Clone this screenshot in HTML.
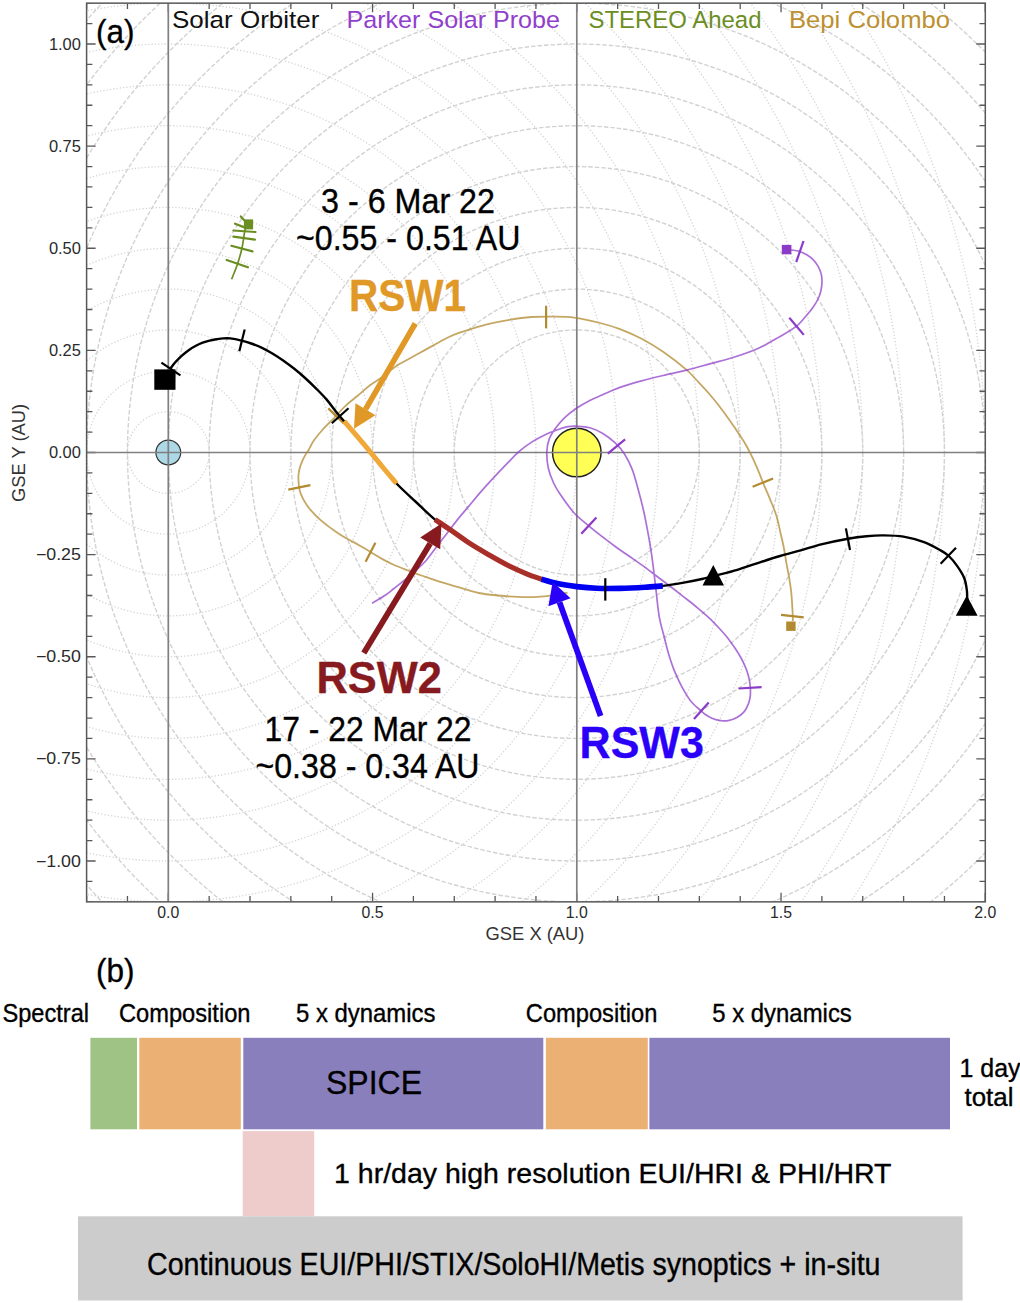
<!DOCTYPE html>
<html><head><meta charset="utf-8"><style>
html,body{margin:0;padding:0;background:#fff;}
body{width:1020px;height:1303px;overflow:hidden;}
svg{display:block;}
.dot{stroke-dasharray:1.25 2.05;stroke:#d4d4d4;stroke-width:1.3;}
.dash{stroke-dasharray:4.5 2;stroke:#d2d2d2;stroke-width:1.4;}
</style></head><body>

<svg width="1020" height="1303" viewBox="0 0 1020 1303">
<defs><clipPath id="pc"><rect x="86.60" y="3.15" width="898.70" height="898.70"/></clipPath></defs>
<g clip-path="url(#pc)">
<g fill="none" stroke="#cfcfcf" stroke-width="1">
<circle cx="168.30" cy="452.50" r="40.85" class="dot"/><circle cx="168.30" cy="452.50" r="81.70" class="dot"/><circle cx="168.30" cy="452.50" r="122.55" class="dot"/><circle cx="168.30" cy="452.50" r="163.40" class="dot"/><circle cx="168.30" cy="452.50" r="204.25" class="dot"/><circle cx="168.30" cy="452.50" r="245.10" class="dot"/><circle cx="168.30" cy="452.50" r="285.95" class="dot"/><circle cx="168.30" cy="452.50" r="326.80" class="dot"/><circle cx="168.30" cy="452.50" r="367.65" class="dot"/><circle cx="168.30" cy="452.50" r="408.50" class="dot"/><circle cx="168.30" cy="452.50" r="449.35" class="dot"/><circle cx="168.30" cy="452.50" r="490.20" class="dot"/><circle cx="168.30" cy="452.50" r="531.05" class="dot"/><circle cx="168.30" cy="452.50" r="571.90" class="dot"/><circle cx="168.30" cy="452.50" r="612.75" class="dot"/><circle cx="168.30" cy="452.50" r="653.60" class="dot"/><circle cx="168.30" cy="452.50" r="694.45" class="dot"/><circle cx="168.30" cy="452.50" r="735.30" class="dot"/><circle cx="168.30" cy="452.50" r="776.15" class="dot"/><circle cx="168.30" cy="452.50" r="817.00" class="dot"/><circle cx="576.80" cy="452.50" r="122.55" class="dash"/><circle cx="576.80" cy="452.50" r="163.40" class="dash"/><circle cx="576.80" cy="452.50" r="204.25" class="dash"/><circle cx="576.80" cy="452.50" r="245.10" class="dash"/><circle cx="576.80" cy="452.50" r="285.95" class="dash"/><circle cx="576.80" cy="452.50" r="326.80" class="dash"/><circle cx="576.80" cy="452.50" r="367.65" class="dash"/><circle cx="576.80" cy="452.50" r="408.50" class="dash"/><circle cx="576.80" cy="452.50" r="449.35" class="dash"/><circle cx="576.80" cy="452.50" r="490.20" class="dash"/><circle cx="576.80" cy="452.50" r="531.05" class="dash"/><circle cx="576.80" cy="452.50" r="571.90" class="dash"/><circle cx="576.80" cy="452.50" r="612.75" class="dash"/><circle cx="576.80" cy="452.50" r="653.60" class="dash"/><circle cx="576.80" cy="452.50" r="694.45" class="dash"/>
</g>
<g stroke="#585858" stroke-width="1.3"><line x1="86.60" y1="901.85" x2="86.60" y2="896.05"/><line x1="86.60" y1="3.15" x2="86.60" y2="8.95"/><line x1="127.45" y1="901.85" x2="127.45" y2="896.05"/><line x1="127.45" y1="3.15" x2="127.45" y2="8.95"/><line x1="168.30" y1="901.85" x2="168.30" y2="892.85"/><line x1="168.30" y1="3.15" x2="168.30" y2="12.15"/><line x1="209.15" y1="901.85" x2="209.15" y2="896.05"/><line x1="209.15" y1="3.15" x2="209.15" y2="8.95"/><line x1="250.00" y1="901.85" x2="250.00" y2="896.05"/><line x1="250.00" y1="3.15" x2="250.00" y2="8.95"/><line x1="290.85" y1="901.85" x2="290.85" y2="896.05"/><line x1="290.85" y1="3.15" x2="290.85" y2="8.95"/><line x1="331.70" y1="901.85" x2="331.70" y2="896.05"/><line x1="331.70" y1="3.15" x2="331.70" y2="8.95"/><line x1="372.55" y1="901.85" x2="372.55" y2="892.85"/><line x1="372.55" y1="3.15" x2="372.55" y2="12.15"/><line x1="413.40" y1="901.85" x2="413.40" y2="896.05"/><line x1="413.40" y1="3.15" x2="413.40" y2="8.95"/><line x1="454.25" y1="901.85" x2="454.25" y2="896.05"/><line x1="454.25" y1="3.15" x2="454.25" y2="8.95"/><line x1="495.10" y1="901.85" x2="495.10" y2="896.05"/><line x1="495.10" y1="3.15" x2="495.10" y2="8.95"/><line x1="535.95" y1="901.85" x2="535.95" y2="896.05"/><line x1="535.95" y1="3.15" x2="535.95" y2="8.95"/><line x1="576.80" y1="901.85" x2="576.80" y2="892.85"/><line x1="576.80" y1="3.15" x2="576.80" y2="12.15"/><line x1="617.65" y1="901.85" x2="617.65" y2="896.05"/><line x1="617.65" y1="3.15" x2="617.65" y2="8.95"/><line x1="658.50" y1="901.85" x2="658.50" y2="896.05"/><line x1="658.50" y1="3.15" x2="658.50" y2="8.95"/><line x1="699.35" y1="901.85" x2="699.35" y2="896.05"/><line x1="699.35" y1="3.15" x2="699.35" y2="8.95"/><line x1="740.20" y1="901.85" x2="740.20" y2="896.05"/><line x1="740.20" y1="3.15" x2="740.20" y2="8.95"/><line x1="781.05" y1="901.85" x2="781.05" y2="892.85"/><line x1="781.05" y1="3.15" x2="781.05" y2="12.15"/><line x1="821.90" y1="901.85" x2="821.90" y2="896.05"/><line x1="821.90" y1="3.15" x2="821.90" y2="8.95"/><line x1="862.75" y1="901.85" x2="862.75" y2="896.05"/><line x1="862.75" y1="3.15" x2="862.75" y2="8.95"/><line x1="903.60" y1="901.85" x2="903.60" y2="896.05"/><line x1="903.60" y1="3.15" x2="903.60" y2="8.95"/><line x1="944.45" y1="901.85" x2="944.45" y2="896.05"/><line x1="944.45" y1="3.15" x2="944.45" y2="8.95"/><line x1="985.30" y1="901.85" x2="985.30" y2="892.85"/><line x1="985.30" y1="3.15" x2="985.30" y2="12.15"/><line x1="86.60" y1="901.85" x2="92.40" y2="901.85"/><line x1="985.30" y1="901.85" x2="979.50" y2="901.85"/><line x1="86.60" y1="881.42" x2="92.40" y2="881.42"/><line x1="985.30" y1="881.42" x2="979.50" y2="881.42"/><line x1="86.60" y1="861.00" x2="95.60" y2="861.00"/><line x1="985.30" y1="861.00" x2="976.30" y2="861.00"/><line x1="86.60" y1="840.58" x2="92.40" y2="840.58"/><line x1="985.30" y1="840.58" x2="979.50" y2="840.58"/><line x1="86.60" y1="820.15" x2="92.40" y2="820.15"/><line x1="985.30" y1="820.15" x2="979.50" y2="820.15"/><line x1="86.60" y1="799.73" x2="92.40" y2="799.73"/><line x1="985.30" y1="799.73" x2="979.50" y2="799.73"/><line x1="86.60" y1="779.30" x2="92.40" y2="779.30"/><line x1="985.30" y1="779.30" x2="979.50" y2="779.30"/><line x1="86.60" y1="758.88" x2="95.60" y2="758.88"/><line x1="985.30" y1="758.88" x2="976.30" y2="758.88"/><line x1="86.60" y1="738.45" x2="92.40" y2="738.45"/><line x1="985.30" y1="738.45" x2="979.50" y2="738.45"/><line x1="86.60" y1="718.03" x2="92.40" y2="718.03"/><line x1="985.30" y1="718.03" x2="979.50" y2="718.03"/><line x1="86.60" y1="697.60" x2="92.40" y2="697.60"/><line x1="985.30" y1="697.60" x2="979.50" y2="697.60"/><line x1="86.60" y1="677.17" x2="92.40" y2="677.17"/><line x1="985.30" y1="677.17" x2="979.50" y2="677.17"/><line x1="86.60" y1="656.75" x2="95.60" y2="656.75"/><line x1="985.30" y1="656.75" x2="976.30" y2="656.75"/><line x1="86.60" y1="636.33" x2="92.40" y2="636.33"/><line x1="985.30" y1="636.33" x2="979.50" y2="636.33"/><line x1="86.60" y1="615.90" x2="92.40" y2="615.90"/><line x1="985.30" y1="615.90" x2="979.50" y2="615.90"/><line x1="86.60" y1="595.48" x2="92.40" y2="595.48"/><line x1="985.30" y1="595.48" x2="979.50" y2="595.48"/><line x1="86.60" y1="575.05" x2="92.40" y2="575.05"/><line x1="985.30" y1="575.05" x2="979.50" y2="575.05"/><line x1="86.60" y1="554.62" x2="95.60" y2="554.62"/><line x1="985.30" y1="554.62" x2="976.30" y2="554.62"/><line x1="86.60" y1="534.20" x2="92.40" y2="534.20"/><line x1="985.30" y1="534.20" x2="979.50" y2="534.20"/><line x1="86.60" y1="513.77" x2="92.40" y2="513.77"/><line x1="985.30" y1="513.77" x2="979.50" y2="513.77"/><line x1="86.60" y1="493.35" x2="92.40" y2="493.35"/><line x1="985.30" y1="493.35" x2="979.50" y2="493.35"/><line x1="86.60" y1="472.93" x2="92.40" y2="472.93"/><line x1="985.30" y1="472.93" x2="979.50" y2="472.93"/><line x1="86.60" y1="452.50" x2="95.60" y2="452.50"/><line x1="985.30" y1="452.50" x2="976.30" y2="452.50"/><line x1="86.60" y1="432.07" x2="92.40" y2="432.07"/><line x1="985.30" y1="432.07" x2="979.50" y2="432.07"/><line x1="86.60" y1="411.65" x2="92.40" y2="411.65"/><line x1="985.30" y1="411.65" x2="979.50" y2="411.65"/><line x1="86.60" y1="391.23" x2="92.40" y2="391.23"/><line x1="985.30" y1="391.23" x2="979.50" y2="391.23"/><line x1="86.60" y1="370.80" x2="92.40" y2="370.80"/><line x1="985.30" y1="370.80" x2="979.50" y2="370.80"/><line x1="86.60" y1="350.38" x2="95.60" y2="350.38"/><line x1="985.30" y1="350.38" x2="976.30" y2="350.38"/><line x1="86.60" y1="329.95" x2="92.40" y2="329.95"/><line x1="985.30" y1="329.95" x2="979.50" y2="329.95"/><line x1="86.60" y1="309.52" x2="92.40" y2="309.52"/><line x1="985.30" y1="309.52" x2="979.50" y2="309.52"/><line x1="86.60" y1="289.10" x2="92.40" y2="289.10"/><line x1="985.30" y1="289.10" x2="979.50" y2="289.10"/><line x1="86.60" y1="268.67" x2="92.40" y2="268.67"/><line x1="985.30" y1="268.67" x2="979.50" y2="268.67"/><line x1="86.60" y1="248.25" x2="95.60" y2="248.25"/><line x1="985.30" y1="248.25" x2="976.30" y2="248.25"/><line x1="86.60" y1="227.82" x2="92.40" y2="227.82"/><line x1="985.30" y1="227.82" x2="979.50" y2="227.82"/><line x1="86.60" y1="207.40" x2="92.40" y2="207.40"/><line x1="985.30" y1="207.40" x2="979.50" y2="207.40"/><line x1="86.60" y1="186.97" x2="92.40" y2="186.97"/><line x1="985.30" y1="186.97" x2="979.50" y2="186.97"/><line x1="86.60" y1="166.55" x2="92.40" y2="166.55"/><line x1="985.30" y1="166.55" x2="979.50" y2="166.55"/><line x1="86.60" y1="146.12" x2="95.60" y2="146.12"/><line x1="985.30" y1="146.12" x2="976.30" y2="146.12"/><line x1="86.60" y1="125.70" x2="92.40" y2="125.70"/><line x1="985.30" y1="125.70" x2="979.50" y2="125.70"/><line x1="86.60" y1="105.27" x2="92.40" y2="105.27"/><line x1="985.30" y1="105.27" x2="979.50" y2="105.27"/><line x1="86.60" y1="84.85" x2="92.40" y2="84.85"/><line x1="985.30" y1="84.85" x2="979.50" y2="84.85"/><line x1="86.60" y1="64.42" x2="92.40" y2="64.42"/><line x1="985.30" y1="64.42" x2="979.50" y2="64.42"/><line x1="86.60" y1="44.00" x2="95.60" y2="44.00"/><line x1="985.30" y1="44.00" x2="976.30" y2="44.00"/><line x1="86.60" y1="23.57" x2="92.40" y2="23.57"/><line x1="985.30" y1="23.57" x2="979.50" y2="23.57"/><line x1="86.60" y1="3.15" x2="92.40" y2="3.15"/><line x1="985.30" y1="3.15" x2="979.50" y2="3.15"/></g>
<circle cx="168.30" cy="452.50" r="12.4" fill="#add8e6" stroke="#333" stroke-width="1.2"/>
<circle cx="576.80" cy="452.50" r="24.3" fill="#ffff55" stroke="#222" stroke-width="1.5"/>
<g stroke="#808080" stroke-width="1.7">
<line x1="168.30" y1="3.1499999999999773" x2="168.30" y2="901.85"/>
<line x1="576.80" y1="3.1499999999999773" x2="576.80" y2="901.85"/>
<line x1="86.60000000000001" y1="452.50" x2="985.3" y2="452.50"/>
</g>
<path d="M792.80,621.00 C792.80,619.43 792.88,617.86 792.80,616.30 C792.38,608.40 792.04,600.48 791.30,592.60 C790.84,587.71 790.00,582.85 789.20,578.00 C788.30,572.58 787.16,567.21 786.20,561.80 C785.26,556.54 784.54,551.24 783.50,546.00 C782.64,541.64 781.51,537.33 780.50,533.00 C779.18,527.33 778.21,521.55 776.50,516.00 C774.78,510.42 772.39,505.03 770.20,499.60 C768.03,494.23 765.61,488.96 763.40,483.60 C761.18,478.22 759.20,472.74 756.90,467.40 C754.87,462.68 752.71,458.00 750.40,453.40 C748.37,449.36 746.24,445.36 743.90,441.50 C741.21,437.06 738.24,432.78 735.30,428.50 C731.07,422.35 726.88,416.17 722.40,410.20 C718.25,404.67 713.90,399.25 709.40,394.00 C705.27,389.19 700.85,384.62 696.50,380.00 C693.35,376.65 690.40,373.06 686.90,370.10 C679.27,363.66 671.32,357.48 663.10,351.80 C656.22,347.05 649.00,342.70 641.60,338.80 C634.63,335.13 627.36,331.90 620.00,329.10 C613.50,326.63 606.75,324.69 600.00,323.00 C591.45,320.86 582.81,318.78 574.10,317.60 C567.01,316.64 559.77,316.70 552.60,316.60 C545.40,316.50 538.17,316.47 531.00,317.00 C523.77,317.54 516.56,318.62 509.40,319.80 C502.19,320.99 495.00,322.39 487.90,324.10 C481.87,325.56 475.94,327.48 470.00,329.30 C466.04,330.51 462.09,331.78 458.20,333.20 C454.89,334.41 451.58,335.69 448.40,337.20 C445.05,338.79 441.86,340.72 438.60,342.50 C435.33,344.29 432.07,346.10 428.80,347.90 C425.53,349.70 422.27,351.50 419.00,353.30 C415.73,355.10 412.47,356.90 409.20,358.70 C405.93,360.50 402.55,362.12 399.40,364.10 C396.02,366.22 392.79,368.60 389.60,371.00 C386.26,373.50 383.18,376.35 379.80,378.80 C376.64,381.09 373.09,382.83 370.00,385.20 C365.82,388.40 362.04,392.12 358.00,395.50 C354.04,398.82 349.76,401.78 346.00,405.30 C341.93,409.11 338.36,413.46 334.50,417.50 C330.49,421.69 326.27,425.69 322.40,430.00 C319.37,433.39 316.37,436.87 313.80,440.60 C311.77,443.54 310.41,446.91 308.60,450.00 C307.71,451.51 306.56,452.87 305.70,454.40 C304.36,456.77 303.06,459.20 302.00,461.70 C301.00,464.06 300.12,466.51 299.50,469.00 C298.92,471.35 298.53,473.79 298.40,476.20 C298.27,478.62 298.47,481.08 298.70,483.50 C298.93,485.95 299.15,488.44 299.80,490.80 C300.49,493.31 301.53,495.77 302.70,498.10 C303.97,500.63 305.47,503.08 307.10,505.40 C308.90,507.95 310.91,510.38 313.00,512.70 C315.05,514.98 317.22,517.15 319.50,519.20 C321.82,521.29 324.32,523.20 326.80,525.10 C329.42,527.10 332.09,529.03 334.80,530.90 C337.69,532.90 340.61,534.87 343.60,536.70 C345.67,537.97 347.87,539.02 350.00,540.20 C353.60,542.19 357.24,544.14 360.80,546.20 C364.44,548.30 367.99,550.55 371.60,552.70 C375.19,554.85 378.73,557.09 382.40,559.10 C385.90,561.02 389.46,562.86 393.10,564.50 C396.63,566.09 400.31,567.35 403.90,568.80 C407.51,570.25 411.06,571.84 414.70,573.20 C418.26,574.54 421.91,575.65 425.50,576.90 C429.11,578.15 432.67,579.52 436.30,580.70 C439.87,581.86 443.50,582.84 447.10,583.90 C451.40,585.17 455.69,586.46 460.00,587.70 C466.26,589.50 472.44,591.71 478.80,593.00 C485.24,594.31 491.85,594.85 498.40,595.50 C504.92,596.15 511.46,596.67 518.00,596.90 C524.53,597.13 531.08,597.23 537.60,596.90 C544.18,596.56 550.77,595.82 557.30,594.90 C560.74,594.42 564.10,593.43 567.50,592.70" fill="none" stroke="#b28a30" stroke-width="1.8" stroke-linecap="butt" stroke-linejoin="round" stroke-opacity="0.75"/>
<line x1="781" y1="614.9" x2="803.7" y2="617.4" stroke="#b28a30" stroke-width="2.2" stroke-linecap="butt"/>
<line x1="752.6" y1="486.8" x2="773.1" y2="478.4" stroke="#b28a30" stroke-width="2.2" stroke-linecap="butt"/>
<line x1="546.1" y1="305.8" x2="546.1" y2="328.4" stroke="#b28a30" stroke-width="2.2" stroke-linecap="butt"/>
<line x1="328.3" y1="408.4" x2="344.1" y2="423.6" stroke="#b28a30" stroke-width="2.2" stroke-linecap="butt"/>
<line x1="288.3" y1="489.6" x2="310.4" y2="485.2" stroke="#b28a30" stroke-width="2.2" stroke-linecap="butt"/>
<line x1="365.6" y1="561.8" x2="375.4" y2="542.7" stroke="#b28a30" stroke-width="2.2" stroke-linecap="butt"/>
<rect x="786.2" y="621.5" width="9.40" height="9.40" fill="#b28a30"/>
<path d="M786.50,249.60 C788.13,249.73 789.78,249.80 791.40,250.00 C794.01,250.33 796.73,250.40 799.20,251.20 C801.96,252.10 804.60,253.58 807.10,255.10 C809.30,256.44 811.49,257.98 813.30,259.80 C815.13,261.64 816.73,263.83 818.00,266.10 C819.36,268.53 820.51,271.20 821.20,273.90 C821.85,276.44 822.06,279.17 822.00,281.80 C821.93,284.94 821.51,288.14 820.80,291.20 C820.18,293.87 819.19,296.52 818.00,299.00 C816.69,301.75 815.04,304.39 813.30,306.90 C811.41,309.62 809.27,312.19 807.10,314.70 C803.80,318.52 800.81,322.77 796.90,325.90 C791.64,330.11 785.48,333.29 779.60,336.70 C772.51,340.82 765.47,345.17 758.00,348.50 C749.67,352.21 740.90,355.03 732.20,357.80 C725.10,360.06 717.79,361.65 710.60,363.60 C702.69,365.75 694.84,368.11 686.90,370.10 C679.01,372.08 671.01,373.61 663.10,375.50 C655.91,377.21 648.72,378.93 641.60,380.90 C634.35,382.90 627.07,384.88 620.00,387.40 C613.87,389.58 607.98,392.42 602.00,395.00 C597.92,396.76 593.74,398.36 589.80,400.40 C585.24,402.76 580.73,405.30 576.50,408.20 C572.36,411.04 568.31,414.13 564.70,417.60 C561.24,420.93 558.09,424.69 555.30,428.60 C552.86,432.02 550.41,435.68 549.00,439.60 C547.58,443.55 546.90,447.98 546.80,452.20 C546.67,457.44 547.17,462.87 548.30,468.00 C549.43,473.14 551.43,478.19 553.60,483.00 C555.33,486.85 557.61,490.50 560.00,494.00 C564.31,500.33 568.62,506.80 573.70,512.50 C577.79,517.10 582.79,520.89 587.50,524.90 C591.96,528.69 596.58,532.31 601.20,535.90 C605.71,539.41 610.28,542.84 614.90,546.20 C619.41,549.48 624.03,552.60 628.60,555.80 C633.17,559.00 637.78,562.13 642.30,565.40 C646.95,568.76 651.51,572.26 656.10,575.70 C660.67,579.13 665.26,582.53 669.80,586.00 C674.46,589.56 679.09,593.17 683.70,596.80 C688.32,600.44 692.99,604.03 697.50,607.80 C702.16,611.69 706.81,615.62 711.20,619.80 C714.58,623.02 717.64,626.56 720.80,630.00 C722.54,631.90 724.27,633.81 725.90,635.80 C727.67,637.95 729.36,640.16 731.00,642.40 C732.76,644.79 734.48,647.21 736.10,649.70 C737.65,652.08 739.12,654.52 740.50,657.00 C741.82,659.38 743.07,661.82 744.20,664.30 C745.27,666.65 746.28,669.05 747.10,671.50 C747.98,674.15 748.76,676.86 749.30,679.60 C749.82,682.23 750.13,684.92 750.30,687.60 C750.47,690.26 750.60,692.97 750.30,695.60 C750.00,698.30 749.46,701.07 748.50,703.60 C747.43,706.40 746.10,709.32 744.20,711.60 C742.23,713.95 739.59,715.98 736.90,717.50 C734.22,719.01 731.12,720.20 728.10,720.70 C725.29,721.17 722.24,720.84 719.40,720.40 C716.88,720.01 714.35,719.21 712.00,718.20 C709.55,717.14 707.19,715.74 705.00,714.20 C702.92,712.74 701.13,710.87 699.20,709.20 C697.59,707.81 695.90,706.50 694.40,705.00 C692.80,703.40 691.28,701.70 689.90,699.90 C688.44,698.00 687.15,695.95 685.90,693.90 C684.31,691.29 682.82,688.61 681.40,685.90 C680.02,683.27 678.75,680.59 677.50,677.90 C676.28,675.26 675.06,672.61 674.00,669.90 C672.73,666.64 671.59,663.33 670.50,660.00 C669.42,656.69 668.42,653.35 667.50,650.00 C666.59,646.69 665.83,643.33 665.00,640.00 C663.13,632.53 660.77,625.16 659.40,617.60 C657.80,608.76 657.18,599.74 656.10,590.80 C655.38,584.87 654.74,578.93 654.00,573.00 C653.14,566.10 652.34,559.18 651.30,552.30 C650.27,545.45 649.06,538.62 647.80,531.80 C646.53,524.92 645.24,518.03 643.70,511.20 C642.17,504.43 640.44,497.69 638.60,491.00 C636.61,483.76 634.88,476.38 632.20,469.40 C630.11,463.95 627.46,458.58 624.30,453.70 C621.70,449.68 618.41,445.97 614.90,442.70 C611.11,439.17 606.85,435.94 602.40,433.30 C598.49,430.98 594.17,429.02 589.80,427.80 C585.80,426.68 581.48,426.51 577.30,426.30 C574.14,426.14 570.90,426.15 567.80,426.70 C564.30,427.32 560.88,428.60 557.50,429.80 C553.18,431.34 548.84,432.93 544.70,434.90 C540.34,436.97 536.05,439.28 532.00,441.90 C527.55,444.78 523.19,447.91 519.20,451.40 C514.69,455.35 510.69,459.89 506.50,464.20 C502.19,468.63 497.91,473.08 493.70,477.60 C489.41,482.21 485.14,486.85 481.00,491.60 C476.64,496.61 472.48,501.81 468.20,506.90 C465.25,510.41 462.17,513.82 459.30,517.40 C455.14,522.59 451.16,527.93 447.10,533.20 C443.40,538.00 439.69,542.80 436.00,547.60 C432.49,552.16 429.33,557.03 425.50,561.30 C422.16,565.03 418.24,568.24 414.50,571.60 C411.04,574.71 407.49,577.74 403.90,580.70 C400.66,583.37 397.31,585.91 394.00,588.50 C391.21,590.68 388.53,593.02 385.60,595.00 C381.23,597.95 376.60,600.53 372.10,603.30" fill="none" stroke="#8c3ac8" stroke-width="1.7" stroke-linecap="butt" stroke-linejoin="round" stroke-opacity="0.72"/>
<line x1="803.5" y1="241" x2="796.2" y2="262.2" stroke="#8c3ac8" stroke-width="2.2" stroke-linecap="butt"/>
<line x1="789.3" y1="317.7" x2="803.8" y2="334.9" stroke="#8c3ac8" stroke-width="2.2" stroke-linecap="butt"/>
<line x1="607.8" y1="453.7" x2="625.1" y2="439.3" stroke="#8c3ac8" stroke-width="2.2" stroke-linecap="butt"/>
<line x1="581.3" y1="533.8" x2="596.4" y2="517.4" stroke="#8c3ac8" stroke-width="2.2" stroke-linecap="butt"/>
<line x1="738.5" y1="688.5" x2="761.6" y2="687.1" stroke="#8c3ac8" stroke-width="2.2" stroke-linecap="butt"/>
<line x1="694" y1="719.1" x2="708.7" y2="702.6" stroke="#8c3ac8" stroke-width="2.2" stroke-linecap="butt"/>
<rect x="781.8" y="244.9" width="9.60" height="9.40" fill="#8c3ac8"/>
<path d="M231.60,279.30 C233.63,274.00 235.91,268.78 237.70,263.40 C239.38,258.35 240.85,253.20 242.00,248.00 C243.12,242.93 243.57,237.71 244.50,232.60 C244.90,230.38 245.50,228.20 246.00,226.00" fill="none" stroke="#6b8e23" stroke-width="1.7" stroke-linecap="butt" stroke-linejoin="round" />
<line x1="235" y1="223.7" x2="243.9" y2="227.1" stroke="#6b8e23" stroke-width="2.2" stroke-linecap="round"/>
<line x1="233.4" y1="230.5" x2="255.5" y2="232" stroke="#6b8e23" stroke-width="2.2" stroke-linecap="round"/>
<line x1="233.4" y1="236.6" x2="254.9" y2="239.7" stroke="#6b8e23" stroke-width="2.2" stroke-linecap="round"/>
<line x1="231.3" y1="245.8" x2="252.5" y2="251.4" stroke="#6b8e23" stroke-width="2.2" stroke-linecap="round"/>
<line x1="226.7" y1="260" x2="247.9" y2="267.3" stroke="#6b8e23" stroke-width="2.2" stroke-linecap="round"/>
<line x1="240.8" y1="216.4" x2="244.5" y2="220.4" stroke="#6b8e23" stroke-width="2.2" stroke-linecap="round"/>
<rect x="243.9" y="219.4" width="9.20" height="10.00" fill="#6b8e23"/>
<path d="M170.00,369.00 C171.77,366.77 173.40,364.42 175.30,362.30 C177.47,359.88 179.79,357.58 182.20,355.40 C184.36,353.45 186.62,351.57 189.00,349.90 C191.19,348.37 193.54,347.04 195.90,345.80 C198.10,344.64 200.38,343.58 202.70,342.70 C204.94,341.85 207.27,341.17 209.60,340.60 C211.87,340.04 214.19,339.67 216.50,339.30 C218.76,338.94 221.02,338.55 223.30,338.40 C225.59,338.25 227.93,338.13 230.20,338.40 C233.99,338.86 237.78,339.70 241.50,340.60 C244.78,341.40 248.02,342.38 251.20,343.50 C254.85,344.78 258.50,346.15 262.00,347.80 C265.70,349.55 269.29,351.59 272.80,353.70 C276.45,355.89 280.01,358.25 283.50,360.70 C287.18,363.28 290.79,365.99 294.30,368.80 C297.99,371.75 301.59,374.83 305.10,378.00 C308.79,381.33 312.38,384.78 315.90,388.30 C319.58,391.98 323.32,395.64 326.70,399.60 C330.52,404.08 333.80,409.01 337.50,413.60 C339.60,416.21 341.91,418.66 344.10,421.20 C348.41,426.19 352.72,431.18 357.00,436.20 C361.56,441.55 366.11,446.90 370.60,452.30 C374.78,457.33 378.82,462.47 383.00,467.50 C387.46,472.87 391.68,478.46 396.50,483.50 C402.68,489.96 409.46,495.87 416.00,502.00 C422.30,507.90 428.33,514.17 435.00,519.60 C439.46,523.23 444.64,525.94 449.40,529.20 C455.97,533.71 462.32,538.56 469.00,542.90 C475.39,547.06 481.99,550.89 488.60,554.70 C495.06,558.43 501.53,562.17 508.20,565.50 C514.60,568.70 521.18,571.58 527.80,574.30 C532.31,576.15 536.95,577.73 541.60,579.20 C546.78,580.83 551.99,582.48 557.30,583.60 C563.69,584.95 570.21,585.82 576.70,586.60 C583.27,587.39 589.89,588.03 596.50,588.30 C604.32,588.63 612.17,588.56 620.00,588.40 C628.37,588.23 636.74,587.79 645.10,587.30 C651.01,586.95 656.93,586.59 662.80,585.90 C669.36,585.13 675.89,584.05 682.40,582.90 C688.96,581.75 695.50,580.44 702.00,579.00 C707.23,577.84 712.41,576.45 717.60,575.10 C724.18,573.39 730.79,571.75 737.30,569.80 C743.89,567.82 750.35,565.42 756.90,563.30 C764.58,560.82 772.26,558.29 780.00,556.00 C786.82,553.99 793.76,552.34 800.60,550.40 C807.49,548.44 814.25,546.01 821.20,544.30 C830.05,542.11 839.02,540.31 848.00,538.70 C854.12,537.61 860.31,536.79 866.50,536.20 C871.94,535.69 877.43,535.34 882.90,535.40 C889.77,535.47 896.75,535.49 903.50,536.60 C910.48,537.75 917.46,539.73 924.10,542.20 C929.83,544.33 935.25,547.41 940.60,550.40 C943.48,552.01 946.41,553.75 948.80,556.00 C951.91,558.92 954.64,562.38 957.10,565.90 C959.81,569.78 962.57,573.84 964.30,578.20 C965.84,582.07 966.35,586.43 966.90,590.60 C967.31,593.70 967.10,596.87 967.20,600.00" fill="none" stroke="#000" stroke-width="2.4" stroke-linecap="butt" stroke-linejoin="round" />
<path d="M344.10,421.20 C348.40,426.20 352.72,431.18 357.00,436.20 C361.56,441.55 366.11,446.90 370.60,452.30 C374.78,457.33 378.82,462.47 383.00,467.50 C387.46,472.87 392.00,478.17 396.50,483.50" fill="none" stroke="#f0a838" stroke-width="5.0" stroke-linecap="butt" stroke-linejoin="round" />
<path d="M435.00,519.60 C439.80,522.80 444.64,525.94 449.40,529.20 C455.97,533.71 462.32,538.56 469.00,542.90 C475.39,547.06 481.99,550.89 488.60,554.70 C495.06,558.43 501.53,562.17 508.20,565.50 C514.60,568.70 521.18,571.58 527.80,574.30 C532.31,576.15 537.00,577.57 541.60,579.20" fill="none" stroke="#a82e28" stroke-width="5.2" stroke-linecap="butt" stroke-linejoin="round" />
<path d="M541.60,579.20 C546.83,580.67 551.99,582.48 557.30,583.60 C563.69,584.95 570.21,585.82 576.70,586.60 C583.27,587.39 589.89,588.03 596.50,588.30 C604.32,588.63 612.17,588.56 620.00,588.40 C628.37,588.23 636.74,587.79 645.10,587.30 C651.01,586.95 656.90,586.37 662.80,585.90" fill="none" stroke="#0000f0" stroke-width="5.6" stroke-linecap="butt" stroke-linejoin="round" />
<line x1="161.4" y1="362.7" x2="180.4" y2="375.3" stroke="#000" stroke-width="2.2" stroke-linecap="butt"/>
<line x1="244.7" y1="329.6" x2="239.3" y2="351.2" stroke="#000" stroke-width="2.2" stroke-linecap="butt"/>
<line x1="331.8" y1="423.2" x2="348.5" y2="408.2" stroke="#000" stroke-width="2.2" stroke-linecap="butt"/>
<line x1="605.3" y1="578.2" x2="605.3" y2="600.6" stroke="#000" stroke-width="2.2" stroke-linecap="butt"/>
<line x1="845.9" y1="528.4" x2="850" y2="550" stroke="#000" stroke-width="2.2" stroke-linecap="butt"/>
<line x1="956" y1="547.8" x2="940.6" y2="563.8" stroke="#000" stroke-width="2.2" stroke-linecap="butt"/>
<rect x="154.3" y="369.4" width="21.20" height="20.40" fill="#000"/>
<polygon points="713.3,565.0 702.5,585.6 724.0,585.6" fill="#000"/>
<polygon points="966.8,595.5 955.8,615.8 977.6,615.8" fill="#000"/>
<line x1="415.3" y1="323.5" x2="365.5" y2="409.3" stroke="#e09826" stroke-width="5.6" stroke-linecap="butt"/>
<polygon points="354,428.8 355.5,403.3 375.4,415.3" fill="#e09826"/>
<line x1="363.8" y1="653" x2="430.2" y2="543.5" stroke="#861a1e" stroke-width="5.8" stroke-linecap="butt"/>
<polygon points="441.5,523.5 420.2,537.6 440.2,549.3" fill="#861a1e"/>
<line x1="600.6" y1="716.1" x2="559.5" y2="602.2" stroke="#2a00f8" stroke-width="5.8" stroke-linecap="butt"/>
<polygon points="552.7,581.7 548.4,606.2 570.5,598.2" fill="#2a00f8"/>
</g>
<rect x="86.60" y="3.15" width="898.70" height="898.70" fill="none" stroke="#585858" stroke-width="1.5"/>
<g font-family='"Liberation Sans", sans-serif' font-size="16" fill="#2a2a2a"><text x="80.9" y="49.50" text-anchor="end" textLength="32" lengthAdjust="spacingAndGlyphs">1.00</text><text x="80.9" y="151.62" text-anchor="end" textLength="32" lengthAdjust="spacingAndGlyphs">0.75</text><text x="80.9" y="253.75" text-anchor="end" textLength="32" lengthAdjust="spacingAndGlyphs">0.50</text><text x="80.9" y="355.88" text-anchor="end" textLength="32" lengthAdjust="spacingAndGlyphs">0.25</text><text x="80.9" y="458.00" text-anchor="end" textLength="32" lengthAdjust="spacingAndGlyphs">0.00</text><text x="80.9" y="560.12" text-anchor="end" textLength="45" lengthAdjust="spacingAndGlyphs">−0.25</text><text x="80.9" y="662.25" text-anchor="end" textLength="45" lengthAdjust="spacingAndGlyphs">−0.50</text><text x="80.9" y="764.38" text-anchor="end" textLength="45" lengthAdjust="spacingAndGlyphs">−0.75</text><text x="80.9" y="866.50" text-anchor="end" textLength="45" lengthAdjust="spacingAndGlyphs">−1.00</text><text x="168.30" y="917.8" text-anchor="middle" textLength="22" lengthAdjust="spacingAndGlyphs">0.0</text><text x="372.55" y="917.8" text-anchor="middle" textLength="22" lengthAdjust="spacingAndGlyphs">0.5</text><text x="576.80" y="917.8" text-anchor="middle" textLength="22" lengthAdjust="spacingAndGlyphs">1.0</text><text x="781.05" y="917.8" text-anchor="middle" textLength="22" lengthAdjust="spacingAndGlyphs">1.5</text><text x="985.30" y="917.8" text-anchor="middle" textLength="22" lengthAdjust="spacingAndGlyphs">2.0</text></g>
<text font-family='"Liberation Sans", sans-serif' font-size="17.5" fill="#333" x="535" y="939.7" text-anchor="middle" textLength="99" lengthAdjust="spacingAndGlyphs">GSE X (AU)</text>
<text font-family='"Liberation Sans", sans-serif' font-size="17.5" fill="#333" transform="translate(24.9,453) rotate(-90)" text-anchor="middle" textLength="98" lengthAdjust="spacingAndGlyphs">GSE Y (AU)</text>
<text x="172.0" y="28.3" font-family='"Liberation Sans", sans-serif' font-size="23.9" fill="#111" text-anchor="start" textLength="147.5" lengthAdjust="spacingAndGlyphs">Solar Orbiter</text>
<text x="346.5" y="28.3" font-family='"Liberation Sans", sans-serif' font-size="23.9" fill="#9140cc" text-anchor="start" textLength="213.5" lengthAdjust="spacingAndGlyphs">Parker Solar Probe</text>
<text x="588.5" y="28.3" font-family='"Liberation Sans", sans-serif' font-size="23.9" fill="#6b8e23" text-anchor="start" textLength="173" lengthAdjust="spacingAndGlyphs">STEREO Ahead</text>
<text x="789.0" y="28.3" font-family='"Liberation Sans", sans-serif' font-size="23.9" fill="#bd9030" text-anchor="start" textLength="161" lengthAdjust="spacingAndGlyphs">Bepi Colombo</text>
<text x="96.0" y="42.6" font-family='"Liberation Sans", sans-serif' font-size="33" fill="#000" text-anchor="start" textLength="38.5" lengthAdjust="spacingAndGlyphs" stroke="#000" stroke-width="0.35" stroke-linejoin="round">(a)</text>
<text x="321.0" y="212.6" font-family='"Liberation Sans", sans-serif' font-size="34.5" fill="#000" text-anchor="start" textLength="174" lengthAdjust="spacingAndGlyphs" stroke="#000" stroke-width="0.35" stroke-linejoin="round">3 - 6 Mar 22</text>
<text x="296.0" y="250.1" font-family='"Liberation Sans", sans-serif' font-size="34.5" fill="#000" text-anchor="start" textLength="224.5" lengthAdjust="spacingAndGlyphs" stroke="#000" stroke-width="0.35" stroke-linejoin="round">~0.55 - 0.51 AU</text>
<text x="349.0" y="310.6" font-family='"Liberation Sans", sans-serif' font-size="45" fill="#e09826" text-anchor="start" font-weight="bold" textLength="117" lengthAdjust="spacingAndGlyphs" stroke="#e09826" stroke-width="0.35" stroke-linejoin="round">RSW1</text>
<text x="316.5" y="692.8" font-family='"Liberation Sans", sans-serif' font-size="45" fill="#861a1e" text-anchor="start" font-weight="bold" textLength="125.5" lengthAdjust="spacingAndGlyphs" stroke="#861a1e" stroke-width="0.35" stroke-linejoin="round">RSW2</text>
<text x="264.5" y="740.7" font-family='"Liberation Sans", sans-serif' font-size="34.5" fill="#000" text-anchor="start" textLength="207" lengthAdjust="spacingAndGlyphs" stroke="#000" stroke-width="0.35" stroke-linejoin="round">17 - 22 Mar 22</text>
<text x="255.5" y="777.6" font-family='"Liberation Sans", sans-serif' font-size="34.5" fill="#000" text-anchor="start" textLength="224" lengthAdjust="spacingAndGlyphs" stroke="#000" stroke-width="0.35" stroke-linejoin="round">~0.38 - 0.34 AU</text>
<text x="579.6" y="757.6" font-family='"Liberation Sans", sans-serif' font-size="45" fill="#2a00f8" text-anchor="start" font-weight="bold" textLength="124.2" lengthAdjust="spacingAndGlyphs" stroke="#2a00f8" stroke-width="0.35" stroke-linejoin="round">RSW3</text>
<rect x="90.4" y="1037.8" width="46.60" height="91.50" fill="#9fc385"/>
<rect x="139.3" y="1037.8" width="101.50" height="91.50" fill="#ebb174"/>
<rect x="243.3" y="1037.8" width="300.00" height="91.50" fill="#8a7fbd"/>
<rect x="545.9" y="1037.8" width="101.90" height="91.50" fill="#ebb174"/>
<rect x="649.4" y="1037.8" width="300.60" height="91.50" fill="#8a7fbd"/>
<rect x="242.7" y="1131.1" width="71.50" height="85.20" fill="#eecccc"/>
<rect x="78.0" y="1216.3" width="884.60" height="84.20" fill="#cccccc"/>
<text x="96.0" y="981.8" font-family='"Liberation Sans", sans-serif' font-size="33" fill="#000" text-anchor="start" textLength="38.5" lengthAdjust="spacingAndGlyphs" stroke="#000" stroke-width="0.35" stroke-linejoin="round">(b)</text>
<text x="2.5" y="1021.6" font-family='"Liberation Sans", sans-serif' font-size="25" fill="#000" text-anchor="start" textLength="86.5" lengthAdjust="spacingAndGlyphs" stroke="#000" stroke-width="0.35" stroke-linejoin="round">Spectral</text>
<text x="119.0" y="1021.6" font-family='"Liberation Sans", sans-serif' font-size="25" fill="#000" text-anchor="start" textLength="131.5" lengthAdjust="spacingAndGlyphs" stroke="#000" stroke-width="0.35" stroke-linejoin="round">Composition</text>
<text x="296.0" y="1021.8" font-family='"Liberation Sans", sans-serif' font-size="25" fill="#000" text-anchor="start" textLength="139.5" lengthAdjust="spacingAndGlyphs" stroke="#000" stroke-width="0.35" stroke-linejoin="round">5 x dynamics</text>
<text x="525.8" y="1021.6" font-family='"Liberation Sans", sans-serif' font-size="25" fill="#000" text-anchor="start" textLength="131.5" lengthAdjust="spacingAndGlyphs" stroke="#000" stroke-width="0.35" stroke-linejoin="round">Composition</text>
<text x="712.3" y="1021.8" font-family='"Liberation Sans", sans-serif' font-size="25" fill="#000" text-anchor="start" textLength="139.5" lengthAdjust="spacingAndGlyphs" stroke="#000" stroke-width="0.35" stroke-linejoin="round">5 x dynamics</text>
<text x="326.0" y="1094.4" font-family='"Liberation Sans", sans-serif' font-size="33.3" fill="#000" text-anchor="start" textLength="96" lengthAdjust="spacingAndGlyphs" stroke="#000" stroke-width="0.35" stroke-linejoin="round">SPICE</text>
<text x="959.5" y="1077.3" font-family='"Liberation Sans", sans-serif' font-size="25.5" fill="#000" text-anchor="start" textLength="61" lengthAdjust="spacingAndGlyphs" stroke="#000" stroke-width="0.35" stroke-linejoin="round">1 day</text>
<text x="964.5" y="1105.9" font-family='"Liberation Sans", sans-serif' font-size="25.5" fill="#000" text-anchor="start" textLength="49" lengthAdjust="spacingAndGlyphs" stroke="#000" stroke-width="0.35" stroke-linejoin="round">total</text>
<text x="334.0" y="1182.6" font-family='"Liberation Sans", sans-serif' font-size="28.5" fill="#000" text-anchor="start" textLength="557.5" lengthAdjust="spacingAndGlyphs" stroke="#000" stroke-width="0.35" stroke-linejoin="round">1 hr/day high resolution EUI/HRI &amp; PHI/HRT</text>
<text x="147.0" y="1274.7" font-family='"Liberation Sans", sans-serif' font-size="31" fill="#000" text-anchor="start" textLength="733.5" lengthAdjust="spacingAndGlyphs" stroke="#000" stroke-width="0.35" stroke-linejoin="round">Continuous EUI/PHI/STIX/SoloHI/Metis synoptics + in-situ</text>
</svg>
</body></html>
